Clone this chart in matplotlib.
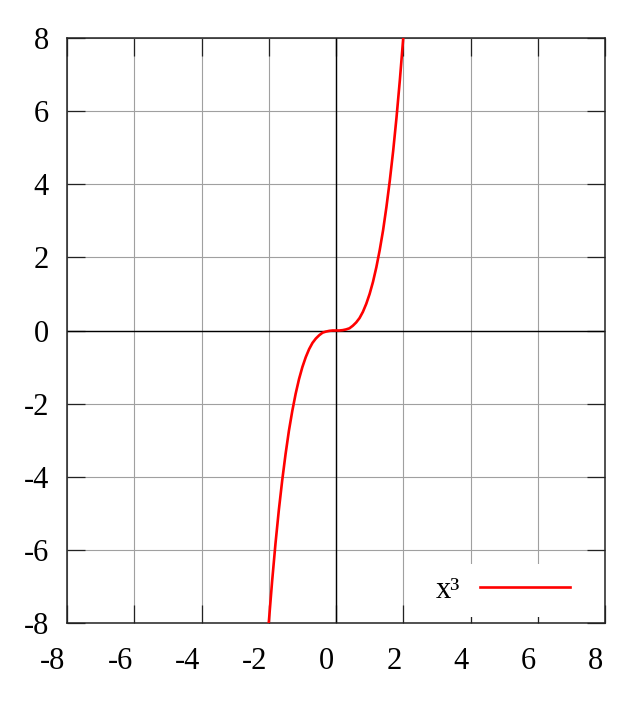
import matplotlib
matplotlib.use("Agg")
import matplotlib.pyplot as plt
from matplotlib.lines import Line2D
from matplotlib.transforms import ScaledTranslation

plt.rcParams['font.family'] = ['Liberation Serif', 'DejaVu Serif']

# data
x_vals = [-2.0, -1.9, -1.8, -1.7, -1.6, -1.5, -1.4, -1.3, -1.2, -1.1, -1.0,
          -0.9, -0.8, -0.7, -0.6, -0.5, -0.4, -0.3, -0.2, -0.1, 0.0,
          0.1, 0.2, 0.3, 0.4, 0.5, 0.6, 0.7, 0.8, 0.9, 1.0,
          1.1, 1.2, 1.3, 1.4, 1.5, 1.6, 1.7, 1.8, 1.9, 2.0]
y_vals = [-8.0, -6.86, -5.83, -4.91, -4.10, -3.38, -2.74, -2.20, -1.73, -1.33, -1.0,
          -0.73, -0.51, -0.34, -0.22, -0.13, -0.06, -0.03, -0.01, 0.0, 0.0,
          0.0, 0.01, 0.03, 0.06, 0.13, 0.22, 0.34, 0.51, 0.73, 1.0,
          1.33, 1.73, 2.20, 2.74, 3.38, 4.10, 4.91, 5.83, 6.86, 8.0]
ticks = [-8, -6, -4, -2, 0, 2, 4, 6, 8]
tick_labels = ['-8', '-6', '-4', '-2', '0', '2', '4', '6', '8']
series_label = 'x³'

fig = plt.figure(figsize=(6.4, 7.02), dpi=100)
ax = fig.add_axes([67/640, 79/702, 538/640, 585/702])
ax.set_xlim(-8, 8)
ax.set_ylim(-8, 8)

ax.grid(True, color='#a0a0a0', linewidth=0.8, zorder=1)
ax.axhline(0, color='black', linewidth=1.0, zorder=2)
ax.axvline(0, color='black', linewidth=1.0, zorder=2)

ax.plot(x_vals, y_vals, color='#ff0000', linewidth=1.9, zorder=3, clip_on=True)

ax.set_xticks(ticks)
ax.set_xticklabels(tick_labels)
ax.set_yticks(ticks)
ax.set_yticklabels(tick_labels)
ax.tick_params(direction='in', length=13, width=0.9, color='#222222',
               top=True, right=True, labelsize=22)
ax.tick_params(axis='x', pad=17)
ax.tick_params(axis='y', pad=13)
off = ScaledTranslation(-1.5/100, 0, fig.dpi_scale_trans)
for lab in ax.get_xticklabels():
    lab.set_horizontalalignment('right')
    lab.set_transform(lab.get_transform() + off)
for s in ax.spines.values():
    s.set_color('#222222')
    s.set_linewidth(1.1)

h = Line2D([], [], color='#ff0000', linewidth=1.9)
leg = ax.legend([h], [series_label], loc='center right',
                bbox_to_anchor=(0.957, 0.056), markerfirst=False,
                handlelength=2.95, handletextpad=0.62, borderpad=0.4,
                borderaxespad=0, fontsize=22, frameon=True, fancybox=False,
                framealpha=1.0, edgecolor='none', facecolor='white')
leg.set_zorder(5)

fig.savefig('out.png', dpi=100)
